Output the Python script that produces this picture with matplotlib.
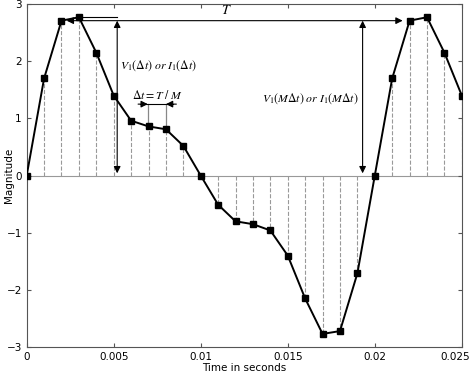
import numpy as np
import matplotlib.pyplot as plt
import matplotlib.transforms as mtransforms

# sampled waveform (period T = 0.02 s, M = 20 samples)
t = np.arange(26) * 0.001
mag = [0.0, 1.70, 2.71, 2.77, 2.15, 1.40, 0.96, 0.86, 0.81, 0.52,
       0.0, -0.51, -0.80, -0.85, -0.96, -1.40, -2.15, -2.77, -2.72, -1.71,
       0.0, 1.70, 2.71, 2.77, 2.15, 1.40]

xticks = [0, 0.005, 0.01, 0.015, 0.02, 0.025]
xticklabels = ['0', '0.005', '0.01', '0.015', '0.02', '0.025']
yticks = [-3, -2, -1, 0, 1, 2, 3]

plt.rcParams['mathtext.fontset'] = 'stix'
plt.rcParams['font.family'] = 'DejaVu Sans'

fig = plt.figure(figsize=(4.74, 3.72), dpi=100)
ax = fig.add_axes([0.0563, 0.067, 0.918, 0.922])

ax.axhline(0, color='#999999', lw=0.8, zorder=1)
for ti, yi in zip(t, mag):
    if yi != 0:
        ax.plot([ti, ti], [0, yi], ls='--', color='#999999', lw=0.8, zorder=1)

ax.plot(t, mag, color='black', lw=1.4, marker='s', ms=4, zorder=3)

# annotations
arr = dict(arrowstyle='<|-|>', color='black', lw=0.8, mutation_scale=10,
           shrinkA=0, shrinkB=0)
ax.annotate('', xy=(0.0023, 2.71), xytext=(0.0216, 2.71), arrowprops=arr)
ax.text(0.0115, 2.78, r'$T$', fontsize=10, ha='center', va='bottom')
ax.plot([0.003, 0.0052], [2.78, 2.78], color='black', lw=0.8)

ax.annotate('', xy=(0.0052, 2.71), xytext=(0.0052, 0.04), arrowprops=arr)
ax.text(0.00535, 1.93, r'$V_1(\Delta t)\ or\ I_1(\Delta t)$', fontsize=8.5,
        ha='left', va='center')

ax.annotate('', xy=(0.0193, 2.71), xytext=(0.0193, 0.04), arrowprops=arr)
ax.text(0.0191, 1.35, r'$V_1(M\Delta t)\ or\ I_1(M\Delta t)$', fontsize=8.5,
        ha='right', va='center')

# delta t bracket
ax.plot([0.00696, 0.00696], [1.25, mag[7]], color='#888888', lw=0.9)
ax.plot([0.008, 0.008], [1.25, mag[8]], color='#888888', lw=0.9)
ax.plot([0.0065, 0.0084], [1.25, 1.25], color='black', lw=0.8)
tri = dict(arrowstyle='-|>', color='black', lw=0.8, mutation_scale=10,
           shrinkA=0, shrinkB=0)
ax.annotate('', xy=(0.00696, 1.25), xytext=(0.0064, 1.25), arrowprops=tri)
ax.annotate('', xy=(0.008, 1.25), xytext=(0.0086, 1.25), arrowprops=tri)
ax.text(0.0075, 1.40, r'$\Delta t = T\ /\ M$', fontsize=8.5, ha='center',
        va='center')

ax.set_xlim(0, 0.025)
ax.set_ylim(-3, 3)
ax.set_xticks(xticks)
ax.set_xticklabels(xticklabels)
ax.set_yticks(yticks)
ax.tick_params(direction='in', top=True, right=True, labelsize=7.5, length=3,
               color='#555555')
for s in ax.spines.values():
    s.set_color('#555555')
    s.set_linewidth(0.8)
ax.set_xlabel('Time in seconds', fontsize=7.5, labelpad=1)
ax.set_ylabel('Magnitude', fontsize=7.5)
ax.yaxis.set_label_coords(-0.03, 0.5)

# keep last tick label inside the figure
last = ax.get_xticklabels()[-1]
last.set_transform(last.get_transform() +
                   mtransforms.ScaledTranslation(-5 / 72, 0, fig.dpi_scale_trans))

fig.savefig('out.png', dpi=100)
